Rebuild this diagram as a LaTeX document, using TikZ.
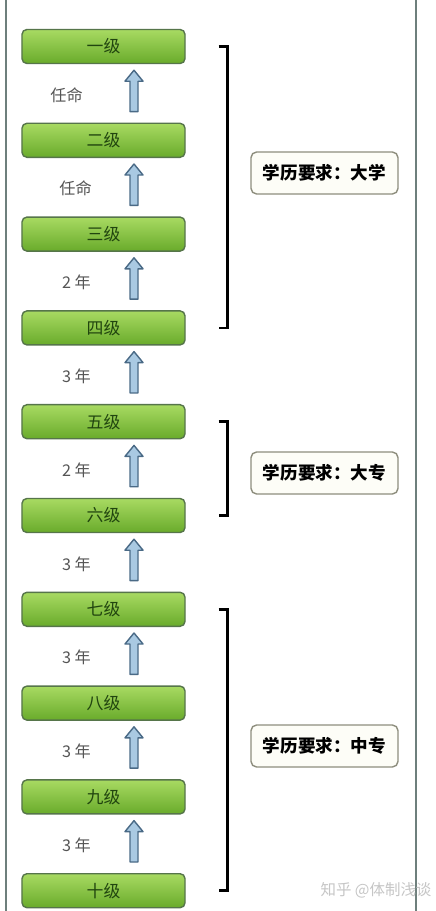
\documentclass[tikz,border=0pt]{standalone}
\usepackage{fontspec}
\setmainfont{Noto Sans CJK SC}
\usetikzlibrary{calc,positioning}
\definecolor{lvTop}{HTML}{A8DA62}
\definecolor{lvBot}{HTML}{69AB2B}
\definecolor{lvEdge}{HTML}{56754A}
\definecolor{lvText}{HTML}{21450F}
\definecolor{arFill}{HTML}{A9C9E2}
\definecolor{arEdge}{HTML}{4A6A86}
\definecolor{reqEdge}{HTML}{8E8E7E}
\definecolor{reqFill}{HTML}{FDFDF7}
\definecolor{sideGray}{HTML}{6E7F7C}
\definecolor{gapText}{HTML}{555555}

\begin{document}
\begin{tikzpicture}[x=0.025cm, y=-0.025cm,
  lvbox/.style={draw=lvEdge, line width=1pt, rounded corners=3.5pt,
    top color=lvTop, bottom color=lvBot, minimum width=4.075cm,
    minimum height=0.85cm, text=lvText, font=\fontsize{12}{14}\selectfont},
  reqbox/.style={draw=reqEdge, line width=1pt, rounded corners=4pt, fill=reqFill,
    minimum width=3.675cm, minimum height=1.05cm,
    font=\fontsize{12.5}{15}\selectfont\bfseries},
  gaplabel/.style={text=gapText, font=\fontsize{11.5}{14}\selectfont},
  steparrow/.style={draw=arEdge, fill=arFill, line width=1pt, line join=round},
  grpbracket/.style={draw=black, line width=1.8pt},
  sideline/.style={draw=sideGray, line width=1.8pt}]
  \useasboundingbox (0,0) rectangle (435,911);
  \fill[white] (0,0) rectangle (435,911);
  % frame lines
  \draw[sideline] (6,0) -- (6,911);
  \draw[sideline] (416,0) -- (416,911);
  % levels
  \foreach \name [count=\i] in {一级,二级,三级,四级,五级,六级,七级,八级,九级,十级}
    \node[lvbox] (b\i) at (103.5,{46.5+93.8*(\i-1)}) {\name};
  % promotions
  \foreach \lo/\hi/\lx/\wait in {2/1/-37/任命, 3/2/-28/任命, 4/3/-27/2 年,
      5/4/-27/3 年, 6/5/-27/2 年, 7/6/-27/3 年, 8/7/-27/3 年, 9/8/-27/3 年, 10/9/-27/3 年} {
    \path ($(b\lo.north)+(30.5,-11)$) coordinate (ab)
          ($(b\hi.south)+(30.5,6)$) coordinate (at);
    \draw[steparrow] ($(ab)+(-4,0)$) -- ($(at)+(-4,11)$) -- ($(at)+(-9,11)$) -- (at)
      -- ($(at)+(9,11)$) -- ($(at)+(4,11)$) -- ($(ab)+(4,0)$) -- cycle;
    \node[gaplabel] at ($(b\lo.north)!0.5!(b\hi.south)+(\lx,1.5)$) {\wait};
  }
  % groups
  \draw[grpbracket] ($(b1.east)+(33,0)$) -- ++(9,0) |- ($(b4.east)+(33,0)$);
  \draw[grpbracket] ($(b5.east)+(33,0)$) -- ++(9,0) |- ($(b6.east)+(33,0)$);
  \draw[grpbracket] ($(b7.east)+(33,0)$) -- ++(9,0) |- ($(b10.east)+(33,0)$);
  \node[reqbox] (r1) at (324.5,173) {学历要求：大学};
  \node[reqbox] (r2) at (324.5,473) {学历要求：大专};
  \node[reqbox] (r3) at (324.5,746) {学历要求：中专};
  \node[text=gray!45, font=\fontsize{11}{13}\selectfont] (mark) at (376,890) {知乎 @体制浅谈};
\end{tikzpicture}
\end{document}
